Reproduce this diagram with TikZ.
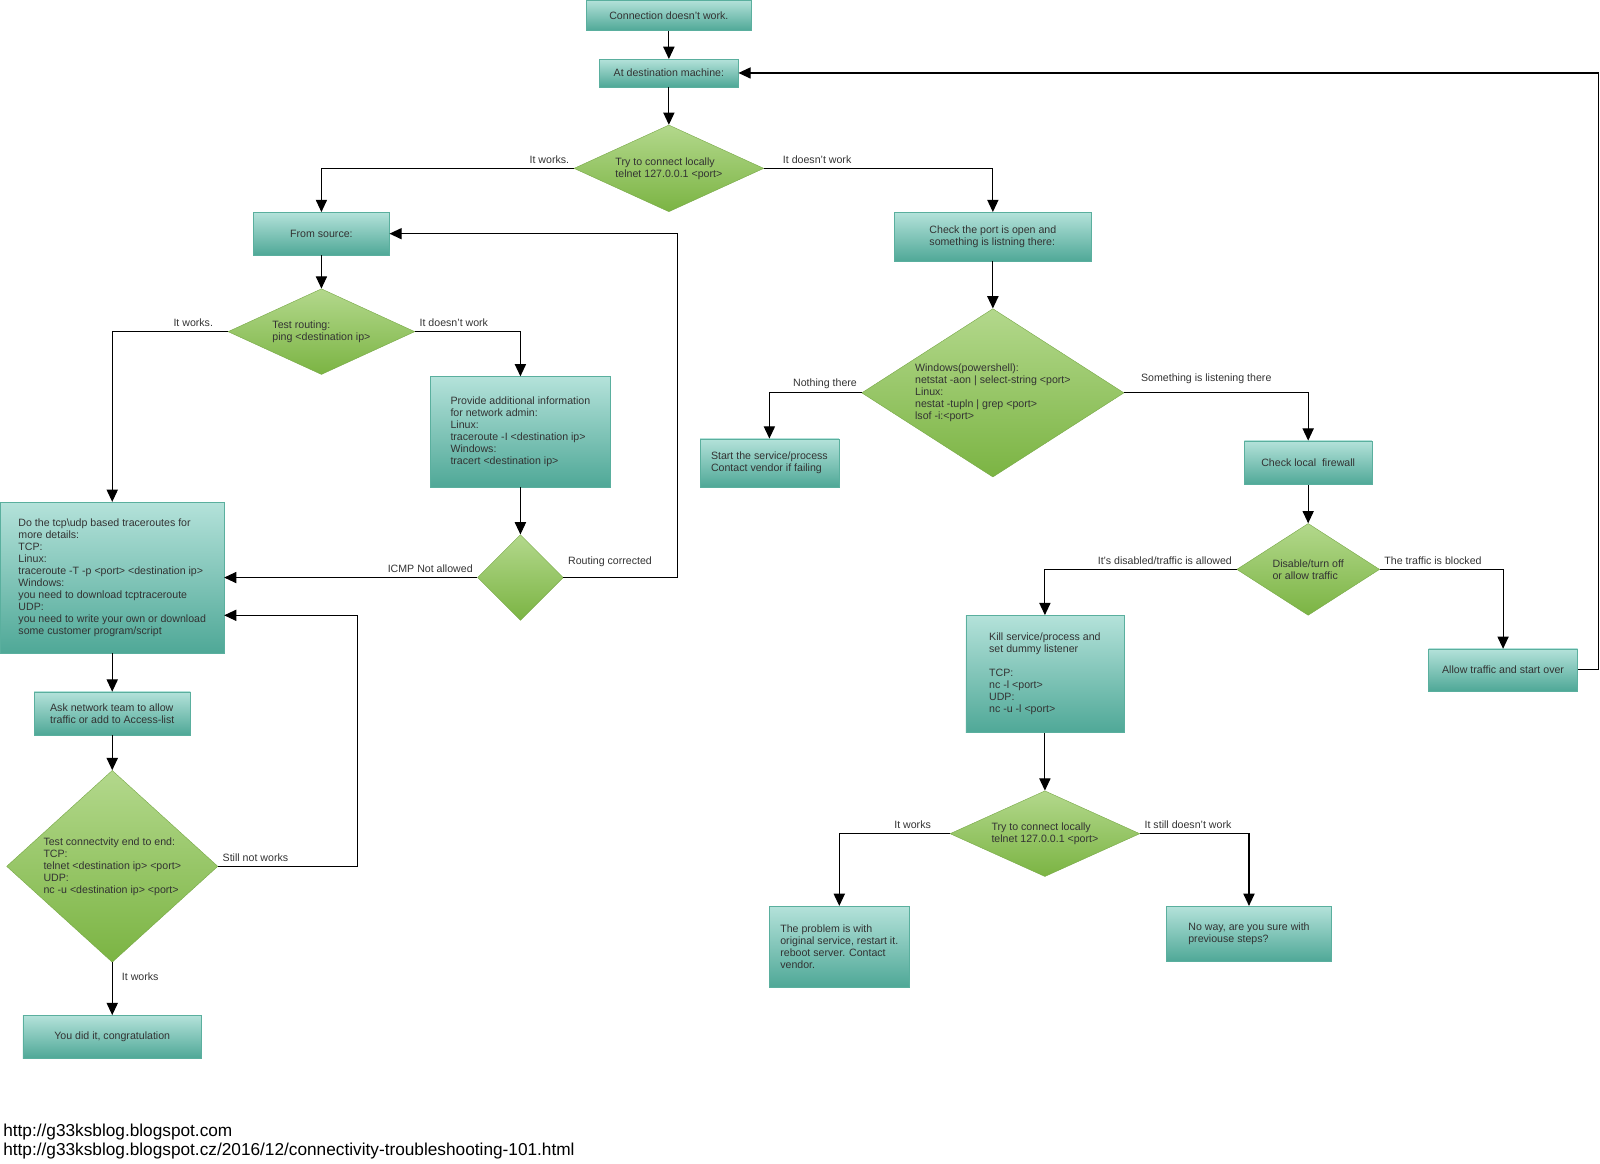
\documentclass[tikz,border=0pt]{standalone}
\usepackage{fontspec}
\setmainfont{Liberation Sans}
\usetikzlibrary{shapes.geometric,arrows.meta}
\definecolor{boxtop}{HTML}{B4E2DA}
\definecolor{boxbot}{HTML}{4FA897}
\definecolor{boxline}{HTML}{5AAF9E}
\definecolor{dectop}{HTML}{B3D88C}
\definecolor{decbot}{HTML}{7BB443}
\definecolor{decline}{HTML}{77A846}

\begin{document}
\begin{tikzpicture}[x=1pt,y=-1pt,
    every node/.style={font=\fontsize{10.4}{11.8}\selectfont, text=black!80},
    stepbox/.style={rectangle, draw=boxline, top color=boxtop, bottom color=boxbot, align=left, inner sep=0pt},
    query/.style={diamond, draw=decline, top color=dectop, bottom color=decbot, align=left, inner sep=0pt},
    flow/.style={line width=1.1pt, -{Triangle[length=12pt,width=11pt]}},
    lbl/.style={inner sep=4pt}]
    \useasboundingbox (0,0) rectangle (1568,1140.7);
    % top of the chart
    \node[stepbox, minimum width=162, minimum height=30] (start) at (655.5,15) {Connection doesn't work.};
    \node[stepbox, minimum width=136, minimum height=27] (dest) at (655.5,71.5) {At destination machine:};
    \node[query, minimum width=186, minimum height=85, aspect=2.2] (tryloc) at (655.5,165) {Try to connect locally\\telnet 127.0.0.1 <port>};
    % source side
    \node[stepbox, minimum width=133, minimum height=42] (source) at (315,229) {From source:};
    \node[query, minimum width=183, minimum height=84, aspect=2.2] (routing) at (315,325) {Test routing:\\ping <destination ip>};
    \node[stepbox, minimum width=176, minimum height=108] (adminfo) at (510,423) {Provide additional information\\for network admin:\\Linux:\\traceroute -I <destination ip>\\Windows:\\tracert <destination ip>};
    \node[query, minimum width=84, minimum height=84, aspect=1] (icmp) at (510,566) {};
    \node[stepbox, minimum width=219, minimum height=148] (tracert) at (110,566) {Do the tcp\textbackslash udp based traceroutes for\\more details:\\TCP:\\Linux:\\traceroute -T -p <port> <destination ip>\\Windows:\\you need to download tcptraceroute\\UDP:\\you need to write your own or download\\some customer program/script};
    \node[stepbox, minimum width=153, minimum height=42] (askteam) at (110,699) {Ask network team to allow\\traffic or add to Access-list};
    \node[query, minimum width=207, minimum height=188, aspect=1.1] (e2e) at (110,849) {Test connectvity end to end:\\TCP:\\telnet <destination ip> <port>\\UDP:\\nc -u <destination ip> <port>};
    \node[stepbox, minimum width=175, minimum height=42] (done) at (110,1016) {You did it, congratulation};
    % destination side
    \node[stepbox, minimum width=193, minimum height=48] (portchk) at (973,232) {Check the port is open and\\something is listning there:};
    \node[query, minimum width=257, minimum height=165, aspect=1.56] (netstat) at (973,385) {Windows(powershell):\\netstat -aon | select-string <port>\\Linux:\\nestat -tupln | grep <port>\\lsof -i:<port>};
    \node[stepbox, minimum width=136, minimum height=47] (startsvc) at (754,453.5) {Start the service/process\\Contact vendor if failing};
    \node[stepbox, minimum width=125, minimum height=43] (firewall) at (1282,453.5) {Check local\ \ firewall};
    \node[query, minimum width=140, minimum height=90, aspect=1.56] (fwstate) at (1282,558) {Disable/turn off\\or allow traffic};
    \node[stepbox, minimum width=155, minimum height=115] (killsvc) at (1024,660.5) {Kill service/process and\\set dummy listener\\[11.8pt]TCP:\\nc -l <port>\\UDP:\\nc -u -l <port>};
    \node[stepbox, minimum width=146, minimum height=41] (allowtr) at (1473,656.5) {Allow traffic and start over};
    \node[query, minimum width=186, minimum height=84, aspect=2.2] (trydummy) at (1024,817) {Try to connect locally\\telnet 127.0.0.1 <port>};
    \node[stepbox, minimum width=137, minimum height=79] (problem) at (822.5,927.5) {The problem is with\\original service, restart it.\\reboot server. Contact\\vendor.};
    \node[stepbox, minimum width=162, minimum height=54] (noway) at (1224,915) {No way, are you sure with\\previouse steps?};
    \coordinate (loopsrc) at (664,229);
    \coordinate (loope2e) at (350,603);
    % connectors
    \draw[flow] (start) -- (dest);
    \draw[flow] (dest) -- (tryloc);
    \draw[flow] (tryloc.west) node[lbl, anchor=south east] {It works.} -| (source.north);
    \draw[flow] (tryloc.east) node[lbl, anchor=south west, xshift=14] {It doesn't work} -| (portchk.north);
    \draw[flow] (source) -- (routing);
    \draw[flow] (routing.west) node[lbl, anchor=south east, xshift=-10] {It works.} -| (tracert.north);
    \draw[flow] (routing.east) node[lbl, anchor=south west] {It doesn't work} -| (adminfo.north);
    \draw[flow] (adminfo) -- (icmp);
    \draw[flow] (icmp.west) node[lbl, anchor=south east] {ICMP Not allowed} -- (tracert.east);
    \draw[flow] (icmp.east) node[lbl, anchor=south west, yshift=6] {Routing corrected} -| (loopsrc) -- (source.east);
    \draw[flow] (tracert) -- (askteam);
    \draw[flow] (askteam) -- (e2e);
    \draw[flow] (e2e.east) node[lbl, anchor=south west] {Still not works} -| (loope2e) -- (tracert.east |- loope2e);
    \draw[flow] (e2e) -- node[lbl, right, pos=0.27, xshift=5] {It works} (done);
    \draw[flow] (portchk) -- (netstat);
    \draw[flow] (netstat.west) node[lbl, anchor=south east] {Nothing there} -| (startsvc.north);
    \draw[flow] (netstat.east) node[lbl, anchor=south west, xshift=12, yshift=4] {Something is listening there} -| (firewall.north);
    \draw[flow] (firewall) -- (fwstate);
    \draw[flow] (fwstate.west) node[lbl, anchor=south east] {It's disabled/traffic is allowed} -| (killsvc.north);
    \draw[flow] (fwstate.east) node[lbl, anchor=south west] {The traffic is blocked} -| (allowtr.north);
    \draw[flow] (allowtr.east) -- ++(20,0) |- (dest.east);
    \draw[flow] (killsvc) -- (trydummy);
    \draw[flow] (trydummy.west) node[lbl, anchor=south east, xshift=-14] {It works} -| (problem.north);
    \draw[flow] (trydummy.east) node[lbl, anchor=south west] {It still doesn't work} -| (noway.north);
    % footer
    \node[anchor=north west, align=left, inner sep=0pt, text=black, font=\fontsize{16.9}{19}\selectfont] (footer) at (3,1101) {http://g33ksblog.blogspot.com\\http://g33ksblog.blogspot.cz/2016/12/connectivity-troubleshooting-101.html};
\end{tikzpicture}
\end{document}
